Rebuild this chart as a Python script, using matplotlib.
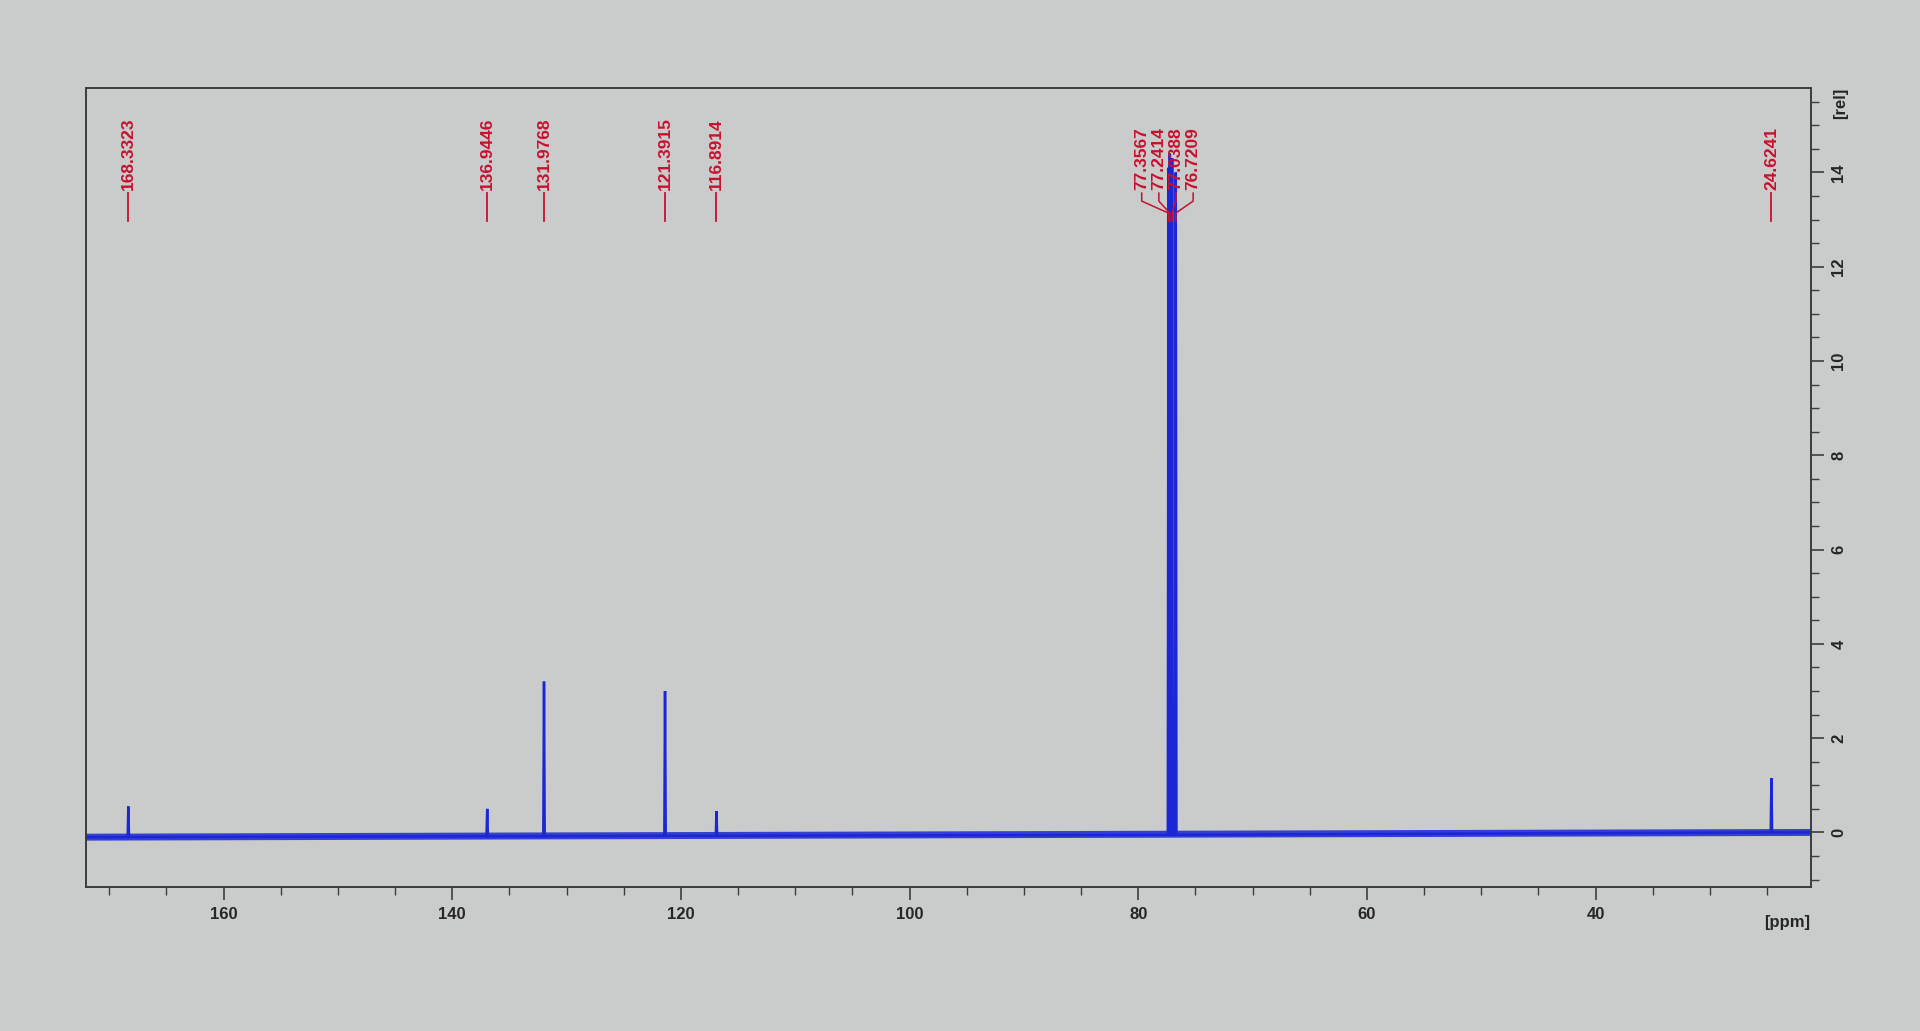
import matplotlib
matplotlib.use('Agg')
import matplotlib.pyplot as plt
from matplotlib.ticker import MultipleLocator

plt.rcParams['font.family'] = ['Liberation Sans', 'DejaVu Sans']

# peak positions (ppm), peak top and local baseline (rel)
peak_ppm = [168.3323, 136.9446, 131.9768, 121.3915, 116.8914,
            77.3567, 77.2414, 77.0388, 76.7209, 24.6241]
peak_top = [0.55, 0.5, 3.2, 3.0, 0.45, 14.1, 14.4, 14.3, 14.0, 1.15]
peak_base = [-0.1, -0.08, -0.08, -0.07, -0.07, -0.05, -0.05, -0.05, -0.05, 0.0]

# baseline ends
base_ppm = [172.0, 21.0]
base_val = [-0.1, 0.0]

# labels
single_labels = ['168.3323', '136.9446', '131.9768', '121.3915', '116.8914', '24.6241']
single_pos = [168.3323, 136.9446, 131.9768, 121.3915, 116.8914, 24.6241]
group_labels = ['77.3567', '77.2414', '77.0388', '76.7209']
group_peaks = [77.3567, 77.2414, 77.0388, 76.7209]
group_label_pos = [79.7, 78.2, 76.7, 75.2]

bg = '#cacccc'
blue = '#1b26d6'
red = '#c8102e'
ink = '#262626'

fig = plt.figure(figsize=(19.2, 10.31), dpi=100, facecolor=bg)
ax = fig.add_axes([0.045, 0.14, 0.898, 0.775], facecolor=bg)

# build the stick spectrum
xs = [base_ppm[0]]
ys = [base_val[0]]
dw = 0.06
for p, t, b in sorted(zip(peak_ppm, peak_top, peak_base), reverse=True):
    xs += [p + dw, p, p - dw]
    ys += [b, t, b]
xs.append(base_ppm[1])
ys.append(base_val[1])
ax.plot(xs, ys, color=blue, lw=1.8, solid_joinstyle='miter')
ax.plot(base_ppm, base_val, color=blue, lw=5, alpha=0.85)

ax.set_xlim(172, 21.2)
ax.set_ylim(-1.15, 15.8)

# axes styling
for s in ax.spines.values():
    s.set_color('#3c3c3c')
    s.set_linewidth(1.4)
ax.yaxis.tick_right()
ax.xaxis.set_minor_locator(MultipleLocator(5))
ax.yaxis.set_minor_locator(MultipleLocator(0.5))
ax.tick_params(axis='both', which='major', direction='out', length=9, width=1.2,
               colors='#3c3c3c', labelcolor=ink, labelsize=12)
ax.tick_params(axis='both', which='minor', direction='out', length=6, width=1.0,
               colors='#3c3c3c')
ax.tick_params(axis='x', pad=6)
ax.tick_params(axis='y', pad=6)
ax.set_xticks(range(40, 161, 20))
ax.set_yticks(range(0, 15, 2))
for lab in ax.get_xticklabels():
    lab.set_fontweight('bold')
for lab in ax.get_yticklabels():
    lab.set_rotation(90)
    lab.set_va('center')
    lab.set_fontweight('bold')

ax.text(1.0, -0.035, '[ppm]', ha='right', va='top', fontsize=12, fontweight='bold',
        color=ink, transform=ax.transAxes)
ax.text(1.013, 1.0, '[rel]', ha='left', va='top', rotation=90, fontsize=12,
        fontweight='bold', color=ink, transform=ax.transAxes)

# peak labels
tr = ax.get_xaxis_transform()
for lab, p in zip(single_labels, single_pos):
    ax.plot([p, p], [0.833, 0.868], color=red, lw=1.3, transform=tr, clip_on=False)
    ax.text(p, 0.872, lab, rotation=90, ha='center', va='bottom', fontsize=12.5,
            fontweight='bold', color=red, transform=tr)

for lab, lp, pp in zip(group_labels, group_label_pos, group_peaks):
    ax.plot([lp, lp, pp, pp], [0.868, 0.858, 0.843, 0.833], color=red, lw=1.1,
            transform=tr, clip_on=False)
    ax.text(lp, 0.872, lab, rotation=90, ha='center', va='bottom', fontsize=12.5,
            fontweight='bold', color=red, transform=tr)

fig.savefig('out.png', dpi=100, facecolor=bg)
